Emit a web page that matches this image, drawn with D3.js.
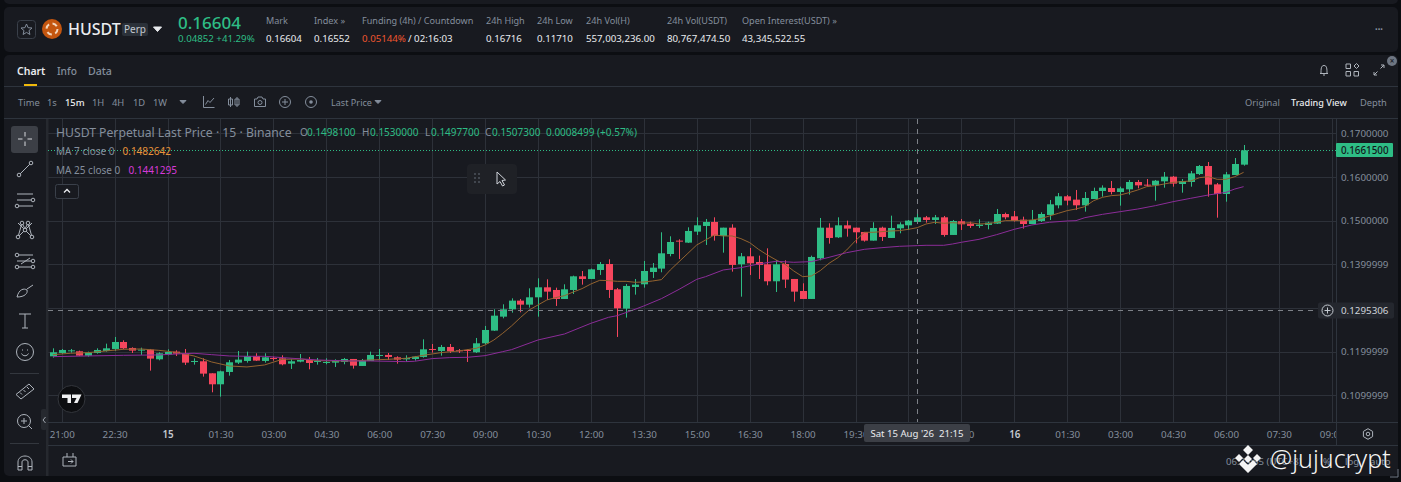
<!DOCTYPE html>
<html>
<head>
<meta charset="utf-8">
<script src="https://cdn.jsdelivr.net/npm/d3@7"></script>
<style>
  html, body { margin: 0; padding: 0; background: #0c0e12; overflow: hidden; }
  svg { display: block; }
  text { font-family: "Noto Sans", sans-serif; }
</style>
</head>
<body>
<div id="chart"></div>
<script>
// 15m candles, first one is the candle before the 21:00 tick
var opens = [
  .11893,.11969,.12008,.12008,.11908,.11969,.12015,.12061,.12221,.12084,.12030,.12046,.11824,.11931,.12000,.11954,
  .11771,.11779,.11504,.11252,.11534,.11748,.11786,.11901,.11786,.11855,.11847,.11725,.11771,.11809,.11771,.11748,
  .11748,.11763,.11832,.11672,.11786,.11908,.11924,.11870,.11824,.11832,.11878,.12061,.12015,.12107,.12030,.12038,
  .11985,.12191,.12481,.12801,.12969,.13168,.13076,.13244,.13473,.13412,.13206,.13412,.13725,.13664,.13870,.14007,
  .13427,.12985,.13481,.13542,.13824,.13901,.14236,.14542,.14496,.14748,.14878,.14969,.14649,.14839,.14000,.14183,
  .14053,.14000,.13611,.14007,.13664,.13389,.13206,.14137,.14839,.14618,.14893,.14839,.14740,.14542,.14839,.14603,
  .14824,.14893,.14969,.15076,.15015,.15076,.14672,.14985,.14931,.14878,.14901,.14931,.15152,.15099,.15023,.14923,
  .14992,.15130,.15351,.15557,.15481,.15351,.15495,.15679,.15747,.15656,.15717,.15885,.15824,.15808,.15900,.16007,
  .15839,.15885,.16068,.16251,.15831,.15610,.16045,.16282
];
var highs = [
  .12076,.12061,.12061,.12023,.12000,.12076,.12183,.12336,.12259,.12099,.12091,.12061,.11985,.12053,.12030,.12061,
  .11847,.11847,.11504,.11565,.11809,.12015,.12000,.11962,.11962,.11885,.11916,.11824,.11946,.11878,.11855,.11847,
  .11824,.11855,.11832,.11832,.12000,.12061,.11969,.11893,.11916,.11901,.12282,.12175,.12153,.12175,.12061,.12053,
  .12313,.12588,.12969,.13084,.13221,.13206,.13450,.13679,.13656,.13465,.13542,.13740,.13847,.13901,.14053,.14114,
  .13458,.13549,.13664,.14076,.14030,.14733,.14641,.14572,.14847,.15076,.15038,.15076,.14839,.14916,.14259,.14374,
  .14198,.14366,.14099,.14091,.13664,.13565,.14198,.15061,.14939,.15076,.15000,.14839,.14740,.14962,.14862,.15114,
  .14962,.15015,.15206,.15107,.15130,.15107,.15015,.15038,.14977,.15030,.14977,.15267,.15183,.15221,.15091,.15244,
  .15191,.15473,.15633,.15588,.15702,.15656,.15755,.15808,.15908,.15778,.15931,.15931,.15953,.15931,.16114,.16022,
  .15953,.16137,.16274,.16343,.15862,.16114,.16434,.16732
];
var lows = [
  .11863,.11946,.11977,.11901,.11885,.11954,.12000,.12015,.12053,.11969,.11924,.11565,.11801,.11916,.11901,.11695,
  .11702,.11427,.11069,.10969,.11450,.11717,.11748,.11786,.11748,.11794,.11687,.11603,.11756,.11595,.11702,.11710,
  .11649,.11710,.11611,.11672,.11786,.11801,.11809,.11725,.11771,.11794,.11863,.11977,.11908,.11969,.11969,.11763,
  .11969,.12160,.12473,.12763,.12893,.12901,.13008,.12801,.13183,.13046,.13206,.13320,.13534,.13664,.13756,.13229,
  .12336,.12779,.13305,.13465,.13687,.13817,.14183,.14122,.14488,.14672,.14443,.14542,.14267,.13832,.13259,.13756,
  .13664,.13519,.13366,.13458,.13145,.13206,.13206,.14091,.14473,.14603,.14633,.14481,.14519,.14542,.14534,.14603,
  .14710,.14786,.14954,.14954,.14923,.14633,.14672,.14786,.14832,.14832,.14801,.14923,.15030,.14977,.14817,.14923,
  .14969,.15015,.15282,.15351,.15244,.15206,.15495,.15549,.15602,.15343,.15595,.15740,.15778,.15457,.15755,.15778,
  .15640,.15778,.16045,.15549,.15068,.15434,.16045,.16259
];
var closes = [
  .11985,.12038,.12030,.11908,.11977,.12038,.12076,.12221,.12076,.12023,.12046,.11840,.11962,.11992,.11954,.11748,
  .11786,.11496,.11252,.11550,.11756,.11817,.11901,.11794,.11870,.11840,.11710,.11779,.11809,.11740,.11786,.11763,
  .11801,.11832,.11679,.11794,.11924,.11924,.11878,.11817,.11855,.11885,.12053,.12046,.12107,.12008,.12015,.12015,
  .12191,.12496,.12824,.12969,.13168,.13076,.13244,.13473,.13374,.13206,.13427,.13725,.13664,.13885,.14007,.13412,
  .12992,.13504,.13534,.13847,.13923,.14252,.14511,.14519,.14763,.14893,.14969,.14649,.14839,.13985,.14183,.14023,
  .13985,.13611,.14000,.13649,.13374,.13206,.14168,.14839,.14603,.14893,.14817,.14733,.14542,.14832,.14626,.14832,
  .14916,.15000,.15076,.15015,.15076,.14672,.14992,.14916,.14878,.14908,.14954,.15152,.15076,.14992,.14923,.15015,
  .15152,.15374,.15557,.15458,.15351,.15519,.15679,.15755,.15656,.15740,.15885,.15808,.15801,.15915,.16007,.15847,
  .15908,.16083,.16251,.15824,.15610,.16060,.16297,.16610
];

// moving averages, read at these candle positions
var ma7At = [0,2,4,6,8,10,12,14,16,18,20,22,24,26,28,30,32,34,36,38,40,42,44,46,48,49,50,51,52,53,54,55,56,57,58,59,60,61,62,63,
  64,65,66,67,68,69,70,71,72,73,74,75,76,77,78,79,80,81,82,83,84,85,86,87,88,89,90,91,92,93,94,95,96,97,98,99,
  100,101,102,103,104,105,106,107,108,109,110,111,112,113,114,115,116,117,118,119,120,121,122,123,124,125,126,127,128,129,130,131,132,133,134,135];
var ma7 = [.11931,.11962,.11977,.12015,.12053,.12061,.12030,.11985,.11901,.11763,.11672,.11649,.11695,.11824,.11832,.11794,.11786,.11786,.11809,.11824,
  .11847,.11916,.11977,.12015,.12076,.12153,.12267,.12420,.12588,.12779,.12954,.13069,.13183,.13237,.13282,.13366,.13443,.13549,.13633,.13626,
  .13610,.13610,.13588,.13595,.13618,.13649,.13870,.14061,.14252,.14443,.14557,.14672,.14649,.14649,.14588,.14496,.14343,.14214,.14099,.14000,
  .13847,.13717,.13733,.13855,.14023,.14152,.14328,.14542,.14733,.14733,.14748,.14763,.14771,.14801,.14839,.14923,.14962,.14939,.14954,.14939,
  .14954,.14923,.14931,.14962,.15000,.15000,.15000,.15015,.15046,.15107,.15168,.15229,.15267,.15320,.15457,.15534,.15572,.15587,.15640,.15702,
  .15778,.15801,.15839,.15877,.15892,.15908,.15984,.16007,.15946,.15946,.16007,.16106];
var ma25At = [0,4,8,12,14,16,18,20,22,24,26,30,34,36,40,41,43,45,47,49,51,52,55,58,61,63,64,66,67,69,71,73,74,76,78,80,82,84,86,88,90,92,94,96,98,
  99,101,102,103,105,107,109,111,113,115,116,117,119,121,123,125,127,129,131,133,134,135];
var ma25 = [.11885,.11901,.11916,.11924,.11946,.11962,.11931,.11901,.11893,.11893,.11863,.11809,.11786,.11786,.11771,.11779,.11840,.11863,.11870,.11908,.12000,.12046,
  .12267,.12404,.12649,.12786,.12824,.12969,.13046,.13214,.13427,.13656,.13717,.13870,.13923,.14007,.14069,.14046,.14061,.14160,.14267,.14343,.14381,.14412,.14427,
  .14435,.14435,.14465,.14504,.14572,.14679,.14801,.14901,.14962,.14992,.15000,.15068,.15144,.15205,.15266,.15343,.15434,.15511,.15587,.15648,.15724,.15778];

var priceTicks = [.17, .16, .15, .1399999, .13, .1199999, .1099999];
var lastPrice = .16615;
var crossPrice = .1295306;
// a label every six candles (90 minutes), starting at candle 1
var timeLabels = ["21:00","22:30","15","01:30","03:00","04:30","06:00","07:30","09:00","10:30","12:00","13:30","15:00",
  "16:30","18:00","19:30","21:00","22:30","16","01:30","03:00","04:30","06:00","07:30","09:00"];
var crossCandle = 98;

var w = 1401, h = 482;
var green = "#2ebd85", red = "#f6465d", gray = "#848e9c", white = "#eaecef", panel = "#181a20";
var gridColor = "#2d3139", lineColor = "#2e343d", iconColor = "#aeb4bc";

var svg = d3.select("#chart").append("svg").attr("width", w).attr("height", h);

function label(txt, x, y, size, color, weight, anchor) {
  return svg.append("text")
    .attr("x", x).attr("y", y)
    .attr("dominant-baseline", "central")
    .attr("text-anchor", anchor || "start")
    .style("font-size", size + "px")
    .style("font-weight", weight || 400)
    .style("fill", color)
    .text(txt);
}

function icon(d, tx, ty, color, width) {
  return svg.append("path")
    .attr("transform", "translate(" + tx + "," + ty + ")")
    .attr("d", d)
    .style("fill", "none")
    .style("stroke", color || iconColor)
    .style("stroke-width", width || 1);
}

function box(x, y, bw, bh, r, fill) {
  return svg.append("rect")
    .attr("x", x).attr("y", y).attr("width", bw).attr("height", bh).attr("rx", r)
    .style("fill", fill);
}

function hline(x1, x2, y, color) {
  return svg.append("line").attr("x1", x1).attr("x2", x2).attr("y1", y).attr("y2", y).style("stroke", color);
}

function nodes(list, color) {
  list.forEach(function (p) {
    svg.append("circle").attr("cx", p[0]).attr("cy", p[1]).attr("r", 1.8)
      .style("fill", panel).style("stroke", color || iconColor);
  });
}

/* panels */
box(4, -8, 1394, 12, 5, panel);
box(4, 7, 1394, 45, 5, panel);
box(4, 55, 1394, 421, 5, panel);

/* top bar */
box(17.5, 20.5, 18, 18, 3, "none").style("stroke", "#3a404a");
icon("M0,-5.5L1.6,-1.8L5.5,-1.5L2.5,1.1L3.4,5L0,2.9L-3.4,5L-2.5,1.1L-5.5,-1.5L-1.6,-1.8Z", 26.5, 29.5, "#848e9c");
svg.append("circle").attr("cx", 52).attr("cy", 29).attr("r", 10).style("fill", "#c4560f");
svg.append("circle").attr("cx", 52).attr("cy", 29).attr("r", 5.5).style("fill", "none").style("stroke", "#f2d6bd").style("stroke-width", 2).style("stroke-dasharray", "5 3.6");
label("HUSDT", 68, 29, 16, white, 500);
box(122, 23, 26, 13, 2, "#2b3139");
label("Perp", 135, 29, 10, "#c4c9d0", 400, "middle");
icon("M-4,-2L4,-2L0,2.5Z", 157.5, 29, white).style("fill", white);
label("0.16604", 178, 22, 17, green, 500);
label("0.04852 +41.29%", 178, 38, 9.7, green);

var headLabels = ["Mark", "Index »", "Funding (4h) / Countdown", "24h High", "24h Low", "24h Vol(H)", "24h Vol(USDT)", "Open Interest(USDT) »"];
var headX = [266, 314, 362, 486, 537, 586, 667, 742];
var headValues = ["0.16604", "0.16552", null, "0.16716", "0.11710", "557,003,236.00", "80,767,474.50", "43,345,522.55"];
headLabels.forEach(function (d, i) {
  label(d, headX[i], 20, 9.1, gray);
  if (headValues[i]) label(headValues[i], headX[i], 38, 9.7, white);
});
label("0.05144%", 362, 38, 9.7, "#f0562f");
label("/ 02:16:03", 408, 38, 9.7, white);
label("•••", 1379, 29, 7, gray, 400, "middle");

/* tab row */
label("Chart", 17, 71, 10.5, white, 600);
label("Info", 57, 71, 10.2, gray, 500);
label("Data", 88, 71, 10.6, gray, 500);
box(24, 84, 13, 2, 0, "#f0b90b");
hline(4, 1398, 86.5, lineColor);
hline(4, 1398, 118.5, lineColor);
icon("M-4,3.5L4,3.5M-3,3.5C-3,-1 -3,-4.5 0,-4.5C3,-4.5 3,-1 3,3.5M-1,5L1,5", 1324, 70);
icon("M-6,-6h4.5v4.5h-4.5ZM2,-4l2.5,-2.5l2.5,2.5l-2.5,2.5ZM-6,1.5h4.5v4.5h-4.5ZM2,1.5h4.5v4.5h-4.5Z", 1352, 70);
icon("M-5,5L-1.5,1.5M1.5,-1.5L5,-5M2,-5H5V-2M-5,2V5H-2", 1379, 70);
svg.append("circle").attr("cx", 1392).attr("cy", 61).attr("r", 5).style("fill", "#6e7682");
label("×", 1392, 60.5, 8, "#20232a", 600, "middle");

/* time row */
label("Time", 18, 102, 9.4, gray);
label("1s", 47, 102, 9.4, gray);
label("15m", 65, 102, 9.4, white, 500);
label("1H", 92, 102, 9.4, gray);
label("4H", 112, 102, 9.4, gray);
label("1D", 133, 102, 9.4, gray);
label("1W", 153, 102, 9.4, gray);
icon("M-3,-1.5L3,-1.5L0,1.5Z", 183, 102, gray).style("fill", gray);
icon("M-5.5,-6V5.5H5.5M-3.5,2.5L-1,-1.5L1,0.5L5,-4", 209, 102, gray);
icon("M-3.5,-5V5M-5.5,-3h4v6h-4ZM3,-5V5M1,-3h4v6h-4Z", 234, 102, gray);
icon("M-5.5,-3h2.5l1,-2h4l1,2h2.5v7.5h-11Z", 260, 102, gray);
svg.append("circle").attr("cx", 260).attr("cy", 102.5).attr("r", 2).style("fill", "none").style("stroke", gray);
svg.append("circle").attr("cx", 285).attr("cy", 102).attr("r", 5.5).style("fill", "none").style("stroke", gray);
icon("M-3,0H3M0,-3V3", 285, 102, gray);
svg.append("circle").attr("cx", 311).attr("cy", 102).attr("r", 5.5).style("fill", "none").style("stroke", gray);
svg.append("circle").attr("cx", 311).attr("cy", 102).attr("r", 1.8).style("fill", gray);
label("Last Price", 331, 102, 9.1, gray);
icon("M-3,-1.5L3,-1.5L0,1.5Z", 378, 102, gray).style("fill", gray);
label("Original", 1245, 102, 9.3, gray);
label("Trading View", 1291, 102, 9.1, white, 500);
label("Depth", 1360, 102, 9.3, gray);

/* scales: candle position -> pixels, price -> pixels */
var x = d3.scaleLinear().domain([0, 135]).range([52.9, 1243.6]);
var y = d3.scaleLinear().domain([.11, .17]).range([395.3, 133.3]);
var tickAt = timeLabels.map(function (d, i) { return 1 + i * 6; });

/* grid */
svg.selectAll(".vgrid").data(tickAt).enter().append("line")
  .attr("class", "vgrid")
  .attr("x1", function (d) { return Math.round(x(d)) + .5; })
  .attr("x2", function (d) { return Math.round(x(d)) + .5; })
  .attr("y1", 119).attr("y2", 422)
  .style("stroke", gridColor);
svg.selectAll(".hgrid").data(priceTicks).enter().append("line")
  .attr("class", "hgrid")
  .attr("x1", 48).attr("x2", 1336)
  .attr("y1", function (d) { return Math.round(y(d)) + .5; })
  .attr("y2", function (d) { return Math.round(y(d)) + .5; })
  .style("stroke", gridColor);

/* frame */
box(46, 119, 2.5, 357, 0, "#26292f");
hline(48, 1398, 422.5, lineColor);
hline(48, 1398, 445.5, lineColor);
svg.append("line").attr("x1", 1336.5).attr("x2", 1336.5).attr("y1", 119).attr("y2", 445).style("stroke", lineColor);

/* axes */
svg.append("defs").append("clipPath").attr("id", "timeclip")
  .append("rect").attr("x", 48).attr("y", -8).attr("width", 1288).attr("height", 22);

var yAxis = svg.append("g")
  .attr("transform", "translate(1341,0)")
  .call(d3.axisRight(y).tickValues(priceTicks).tickSize(0).tickPadding(0)
    .tickFormat(function (d) { return d.toFixed(7); }));
yAxis.select(".domain").remove();
yAxis.selectAll("text").style("font-size", "9.8px").style("font-family", '"Noto Sans", sans-serif').style("fill", gray);

var xAxis = svg.append("g")
  .attr("transform", "translate(0,431)")
  .attr("clip-path", "url(#timeclip)")
  .call(d3.axisBottom(x).tickValues(tickAt).tickSize(0).tickPadding(0)
    .tickFormat(function (d, i) { return timeLabels[i]; }));
xAxis.select(".domain").remove();
xAxis.selectAll("text")
  .style("font-size", "9.8px")
  .style("font-family", '"Noto Sans", sans-serif')
  .style("fill", function (d, i) { return timeLabels[i].length == 2 ? "#c4c9d0" : gray; })
  .style("font-weight", function (d, i) { return timeLabels[i].length == 2 ? 600 : 400; });

/* last price line */
hline(48, 1336, Math.round(y(lastPrice)) + .5, green).style("stroke-dasharray", "1 2");

/* candles */
svg.selectAll(".wick").data(opens).enter().append("line")
  .attr("class", "wick")
  .attr("x1", function (d, i) { return Math.round(x(i)) + .5; })
  .attr("x2", function (d, i) { return Math.round(x(i)) + .5; })
  .attr("y1", function (d, i) { return y(highs[i]); })
  .attr("y2", function (d, i) { return y(lows[i]); })
  .style("stroke", function (d, i) { return closes[i] >= d ? green : red; });

svg.selectAll(".body").data(opens).enter().append("rect")
  .attr("class", "body")
  .attr("x", function (d, i) { return Math.round(x(i)) - 3; })
  .attr("width", 7)
  .attr("y", function (d, i) { return y(Math.max(d, closes[i])); })
  .attr("height", function (d, i) { return Math.max(1, Math.abs(y(d) - y(closes[i]))); })
  .style("fill", function (d, i) { return closes[i] >= d ? green : red; });

/* moving averages */
function maLine(at, values, color) {
  var line = d3.line()
    .x(function (d, i) { return x(at[i]); })
    .y(function (d) { return y(d); });
  svg.append("path").datum(values)
    .attr("d", line)
    .style("fill", "none")
    .style("stroke", color)
    .style("stroke-width", 1);
}
maLine(ma7At, ma7, "#94632f");
maLine(ma25At, ma25, "#8b2c98");

/* crosshair */
var crossX = Math.round(x(crossCandle)) + .5, crossY = Math.round(y(crossPrice)) + .5;
svg.append("line").attr("x1", crossX).attr("x2", crossX).attr("y1", 119).attr("y2", 422)
  .style("stroke", "#7d8188").style("stroke-dasharray", "5 5");
svg.append("line").attr("x1", 48).attr("x2", 1336).attr("y1", crossY).attr("y2", crossY)
  .style("stroke", "#7d8188").style("stroke-dasharray", "5 5");

/* price labels on the axis */
box(1336, y(lastPrice) - 7, 57, 14, 1, green);
label(lastPrice.toFixed(4) + "500", 1341, y(lastPrice), 9.8, "#14161b", 500);
box(1318, crossY - 8, 76, 16, 2, "#24272e");
svg.append("circle").attr("cx", 1327.5).attr("cy", crossY).attr("r", 5.5).style("fill", "#24272e").style("stroke", "#c4c9d0");
icon("M-3,0H3M0,-3V3", 1327.5, crossY, "#c4c9d0");
label(crossPrice.toFixed(7), 1341, crossY, 9.8, "#d0d4da");

/* time label under the crosshair */
box(864, 424, 106, 18, 2, "#3c3f46");
label("Sat 15 Aug '26  21:15", 917, 433, 9.6, white, 400, "middle").style("white-space", "pre");
icon("M-4.6,-2.6L0,-5.3L4.6,-2.6V2.6L0,5.3L-4.6,2.6Z", 1368, 434, iconColor);
svg.append("circle").attr("cx", 1368).attr("cy", 434).attr("r", 1.8).style("fill", "none").style("stroke", iconColor);

/* legend */
label("HUSDT Perpetual Last Price · 15 · Binance", 56, 132, 12.2, gray);
var ohlcLabels = ["O", "H", "L", "C"], ohlcValues = ["0.1498100", "0.1530000", "0.1497700", "0.1507300"];
var ohlcX = [300, 362, 425, 485], ohlcPad = [7, 8, 6, 7];
ohlcLabels.forEach(function (d, i) {
  label(d, ohlcX[i], 132, 10, gray);
  label(ohlcValues[i], ohlcX[i] + ohlcPad[i], 132, 10, green);
});
label("0.0008499 (+0.57%)", 546, 132, 10, green);
label("MA 7 close 0", 56, 151, 10, gray);
label("0.1482642", 122.5, 151, 10, "#e8933a");
label("MA 25 close 0", 56, 170, 10, gray);
label("0.1441295", 128.5, 170, 10, "#d63ad8");
box(55.5, 184.5, 23, 14, 2, panel).style("stroke", "#3a404a");
icon("M-3,1.5L0,-1.5L3,1.5", 67, 191, white, 1.3);

/* floating tool strip */
box(467, 164, 50, 30, 4, "#1f2126");
svg.selectAll(".grip").data([0, 1, 2, 3, 4, 5]).enter().append("circle")
  .attr("class", "grip")
  .attr("cx", function (d) { return 475 + (d % 2) * 4; })
  .attr("cy", function (d) { return 174 + Math.floor(d / 2) * 4; })
  .attr("r", .8).style("fill", "#6e7682");
icon("M-4,-7L-4,5L-1,2.5L1.5,7L3.5,6L1,1.5L4.5,1Z", 501, 179, "#d0d4da");

/* TV logo */
svg.append("circle").attr("cx", 71.5).attr("cy", 399).attr("r", 13.5).style("fill", "#0d0e11").style("stroke", "#33363c");
svg.append("path").attr("d", "M62,394.5H71V403H67.5V398H62ZM72,394.5H81.5L77.5,403H74L76.5,398H72Z").style("fill", "#f0f1f3");

/* drawing tools */
var tx = 25;
box(11, 126, 27, 27, 3, "#3c3f46");
icon("M-7,0H-2.5M2.5,0H7M0,-7V-2.5M0,2.5V7", tx, 139, "#d5d8dc");
icon("M-6,6L6,-6", tx, 169);
nodes([[tx - 6, 175], [tx + 6, 163]]);
icon("M-8,-6H8M-8,0H6M-8,6H8", tx, 200);
nodes([[tx + 8, 200], [tx - 8, 206]]);
icon("M-7,7L-3,-7L0,-1L3,-7L7,7M-7,-7L7,7M7,-7L-7,7", tx, 230);
nodes([[tx - 7, 237], [tx + 7, 237], [tx - 3, 223], [tx + 3, 223], [tx, 230]]);
icon("M-8,-6H8M-8,0H8M-8,6H8M-4,3L5,-3", tx, 261);
nodes([[tx - 8, 255], [tx + 8, 261], [tx - 8, 267], [tx + 8, 267]]);
icon("M-8,6C-6,-2 -1,-3 2,-1C3,2 0,6 -8,6ZM2,-2L8,-6", tx, 291);
icon("M-6,-7H6M0,-7V7M-3,7H3", tx, 321);
svg.append("circle").attr("cx", tx).attr("cy", 352).attr("r", 8.5).style("fill", "none").style("stroke", iconColor);
icon("M-3.5,1.5C-2,4.5 2,4.5 3.5,1.5M-2.5,-2.5V-1.5M2.5,-2.5V-1.5", tx, 352);
hline(10, 39, 373.5, "#33373e");
icon("M-9,3.5L4,-7L9,-2L-4,8ZM-5,1.5L-3,3.5M-1.5,-1L0.5,1M2,-4L4,-2", tx, 391);
svg.append("circle").attr("cx", tx - 1).attr("cy", 421).attr("r", 6.5).style("fill", "none").style("stroke", iconColor);
icon("M-3,0H3M0,-3V3M4.5,4.5L8,8", tx - 1, 421);
hline(10, 39, 443.5, "#33373e");
icon("M-7,7V-1C-7,-9 7,-9 7,-1V7H3V-1C3,-4 -3,-4 -3,-1V7ZM-7,3.5H-3M3,3.5H7", tx, 463);
box(41, 409, 6, 21, 2, "#26292f");
icon("M1.5,-3L-1,0L1.5,3", 44, 420, "#a0a6ae");

/* bottom row */
icon("M-7,-3H6V6H-7ZM-3,-7V-3M3,-7V-3M-2,1.5H3M1,-0.5L3,1.5L1,3.5", 70, 460);
label("06:35:55 (UTC+8)", 1226, 461, 9.6, gray);
label("%", 1323, 461, 9.6, gray);
label("log", 1345, 461, 9.6, gray);
label("auto", 1370, 461, 9.6, gray);
icon("M-3,5L5,5L5,-3", 1393, 472, "#6e7682");

/* watermark */
svg.append("path").attr("transform", "translate(1248,459)")
  .attr("d", "M0,-14L5,-9L0,-4L-5,-9ZM-9,-5L-5,-1L-9,3L-13,-1ZM9,-5L13,-1L9,3L5,-1ZM0,-4L4,0L0,4L-4,0ZM0,6L5,1L9,5L0,14L-9,5L-5,1Z")
  .style("fill", "#f4f4f4");
label("@jujucrypt", 1270, 458, 25, "#f4f4f4", 300).style("paint-order", "stroke").style("stroke", "#14161b").style("stroke-width", .6);
</script>
</body>
</html>
